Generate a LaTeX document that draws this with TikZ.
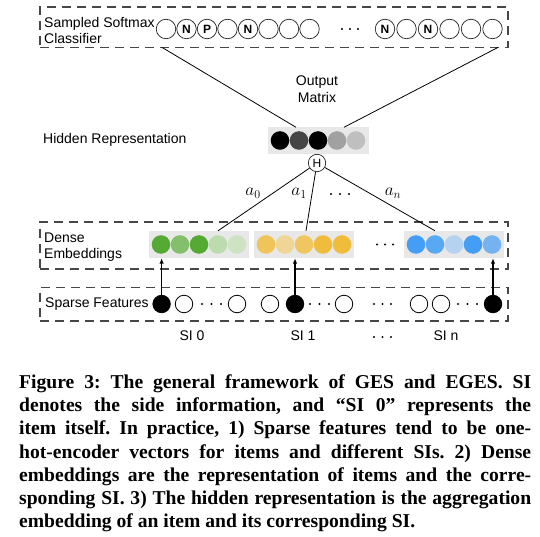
\documentclass[tikz,border=0pt]{standalone}
\usepackage{fontspec}
\setmainfont{Liberation Sans}
\newfontfamily\capfont{Liberation Serif}
\usetikzlibrary{arrows.meta}
\definecolor{gA}{HTML}{55AA33}
\definecolor{gB}{HTML}{84C06C}
\definecolor{gC}{HTML}{BCDCAE}
\definecolor{gD}{HTML}{CDE3C3}
\definecolor{yA}{HTML}{EFC55A}
\definecolor{yB}{HTML}{EFD596}
\definecolor{yC}{HTML}{EFC660}
\definecolor{yD}{HTML}{EFBC3C}
\definecolor{bA}{HTML}{459EF5}
\definecolor{bB}{HTML}{58A8F3}
\definecolor{bC}{HTML}{B5D3F1}
\definecolor{bD}{HTML}{75B3F0}
\definecolor{panel}{HTML}{E8E8E8}
\begin{document}
\begin{tikzpicture}[x=1pt,y=-1pt,
  dbox/.style={draw=black!72, line width=1.3pt, dash pattern=on 9pt off 6pt, minimum width=468pt, inner sep=0},
  lbl/.style={font=\fontsize{14}{16.4}\selectfont, align=left, inner sep=0, anchor=west},
  oc/.style={circle, draw=black!85, line width=0.7pt, minimum size=#1, inner sep=0, font=\fontsize{12}{12}\selectfont\bfseries},
  oc/.default=19.5pt,
  fc/.style={circle, fill=#1, minimum size=18.6pt, inner sep=0},
  sc/.style={circle, draw=black, line width=0.8pt, minimum size=17.5pt, inner sep=0},
  bc/.style={circle, fill=black, draw=black, line width=0.8pt, minimum size=17.5pt, inner sep=0},
  dot/.style={circle, fill=black, inner sep=0, minimum size=2.3pt},
  pnl/.style={fill=panel, minimum width=100pt, minimum height=27pt, inner sep=0},
  thinln/.style={line width=0.8pt},
  arr/.style={-{Latex[length=5.5pt,width=4.5pt]}, line width=1.1pt},
  alab/.style={font=\fontsize{18}{18}\selectfont, inner sep=0}
]
\useasboundingbox (0,0) rectangle (540,537);

% dashed boxes
\node[dbox, minimum height=40.4pt] (topbox) at (274,27.2) {};
\node[dbox, minimum height=47pt] (densebox) at (274,245.5) {};
\node[dbox, minimum height=33.7pt] (sparsebox) at (274,304.2) {};

% labels
\node[lbl] (lsoft) at (44,30.6) {Sampled Softmax\\Classifier};
\node[lbl] (lhid) at (43,140) {Hidden Representation};
\node[lbl] (ldense) at (44,247.2) {Dense\\Embeddings};
\node[lbl] (lsparse) at (45,304) {Sparse Features};
\node[lbl, anchor=center, align=center] (lout) at (317,89) {Output\\Matrix};

% top classifier row
\node[oc] (t1) at (166,29) {};
\node[oc] (t2) at (186.5,29) {N};
\node[oc] (t3) at (207,29) {P};
\node[oc] (t4) at (227.5,29) {};
\node[oc] (t5) at (248,29) {N};
\node[oc] (t6) at (268.5,29) {};
\node[oc] (t7) at (289,29) {};
\node[oc] (t8) at (309.5,29) {};
\node[dot] (td1) at (342,29) {};
\node[dot] (td2) at (350,29) {};
\node[dot] (td3) at (358,29) {};
\node[oc] (u1) at (385,29) {N};
\node[oc] (u2) at (406.5,29) {};
\node[oc] (u3) at (428,29) {N};
\node[oc] (u4) at (449.5,29) {};
\node[oc] (u5) at (471,29) {};
\node[oc] (u6) at (492.5,29) {};

% hidden representation
\node[pnl, minimum width=101pt, minimum height=26.5pt] (hid) at (318,140.5) {};
\node[fc=black] (h1) at (280,140.5) {};
\node[fc=black!73] (h2) at (299,140.5) {};
\node[fc=black] (h3) at (318,140.5) {};
\node[fc=black!37] (h4) at (337,140.5) {};
\node[fc=black!25] (h5) at (356,140.5) {};
\node[oc=17.4pt, font=\fontsize{12}{12}\selectfont] (H) at (317,163) {H};

\coordinate (tl) at (162,47.4);
\coordinate (tr) at (498,47.4);
\coordinate (hl) at (296,127.3);
\coordinate (hr) at (344,127.3);
\draw[thinln] (tl) -- (hl);
\draw[thinln] (tr) -- (hr);

% dense embeddings
\node[pnl] (grect) at (199,244.5) {};
\node[fc=gA] (g1) at (161,244.5) {};
\node[fc=gB] (g2) at (180,244.5) {};
\node[fc=gA] (g3) at (199,244.5) {};
\node[fc=gC] (g4) at (218,244.5) {};
\node[fc=gD] (g5) at (237,244.5) {};

\node[pnl] (yrect) at (304,244.5) {};
\node[fc=yA] (y1) at (266,244.5) {};
\node[fc=yB] (y2) at (285,244.5) {};
\node[fc=yC] (y3) at (304,244.5) {};
\node[fc=yD] (y4) at (323,244.5) {};
\node[fc=yD] (y5) at (342,244.5) {};

\node[dot] (dd1) at (377,244.5) {};
\node[dot] (dd2) at (385,244.5) {};
\node[dot] (dd3) at (393,244.5) {};

\node[pnl] (brect) at (454,244.5) {};
\node[fc=bA] (b1) at (416,244.5) {};
\node[fc=bB] (b2) at (435,244.5) {};
\node[fc=bC] (b3) at (454,244.5) {};
\node[fc=bA] (b4) at (473,244.5) {};
\node[fc=bD] (b5) at (492,244.5) {};

% aggregation lines
\draw[thinln] (H) -- (grect.north -| g4);
\draw[thinln] (H) -- ([xshift=2pt]yrect.north -| y3);
\draw[thinln] (H) -- (brect.north -| b2);
\node[alab] (a0) at (253,193) {$a_0$};
\node[alab] (a1) at (299,193) {$a_1$};
\node[dot] (ad1) at (331,194) {};
\node[dot] (ad2) at (340,194) {};
\node[dot] (ad3) at (349,194) {};
\node[alab] (an) at (393,193) {$a_n$};

% sparse features
\node[bc] (s0) at (161.6,304) {};
\node[sc] (s0b) at (184,304) {};
\node[dot] (sd1) at (202,304) {};
\node[dot] (sd2) at (211.5,304) {};
\node[dot] (sd3) at (221,304) {};
\node[sc] (s0c) at (237,304) {};
\node[sc] (s1a) at (270,304) {};
\node[bc] (s1) at (295,304) {};
\node[dot] (sd4) at (310,304) {};
\node[dot] (sd5) at (319.5,304) {};
\node[dot] (sd6) at (329,304) {};
\node[sc] (s1c) at (344,304) {};
\node[dot] (sd7) at (374,304) {};
\node[dot] (sd8) at (382.5,304) {};
\node[dot] (sd9) at (391,304) {};
\node[sc] (sna) at (419,304) {};
\node[sc] (snb) at (441,304) {};
\node[dot] (sd10) at (458,304) {};
\node[dot] (sd11) at (467.5,304) {};
\node[dot] (sd12) at (477,304) {};
\node[bc] (sn) at (493,304) {};

\draw[arr] (s0) -- (s0 |- grect.south);
\draw[arr] (s1) -- (s1 |- yrect.south);
\draw[arr] (sn) -- (sn |- brect.south);

% SI labels
\node[lbl, anchor=center] (si0) at (192,336) {SI 0};
\node[lbl, anchor=center] (si1) at (303,336) {SI 1};
\node[dot] (sid1) at (374,337) {};
\node[dot] (sid2) at (382.5,337) {};
\node[dot] (sid3) at (391,337) {};
\node[lbl, anchor=center] (sin) at (446,336) {SI n};

% caption
\node[anchor=base west, inner sep=0] (cap) at (19,388.5) {\parbox[t]{512pt}{\capfont\bfseries\fontsize{19.6}{23.2}\selectfont\frenchspacing\tolerance=10000\hbadness=10000\hyphenpenalty=10000\emergencystretch=0pt
Figure 3: The general framework of GES and EGES. SI\linebreak
denotes the side information, and “SI 0” represents the\linebreak
item itself. In practice, 1) Sparse features tend to be one-\linebreak
hot-encoder vectors for items and different SIs. 2) Dense\linebreak
embeddings are the representation of items and the corre-\linebreak
sponding SI. 3) The hidden representation is the aggregation\linebreak
embedding of an item and its corresponding SI.}};
\end{tikzpicture}
\end{document}
